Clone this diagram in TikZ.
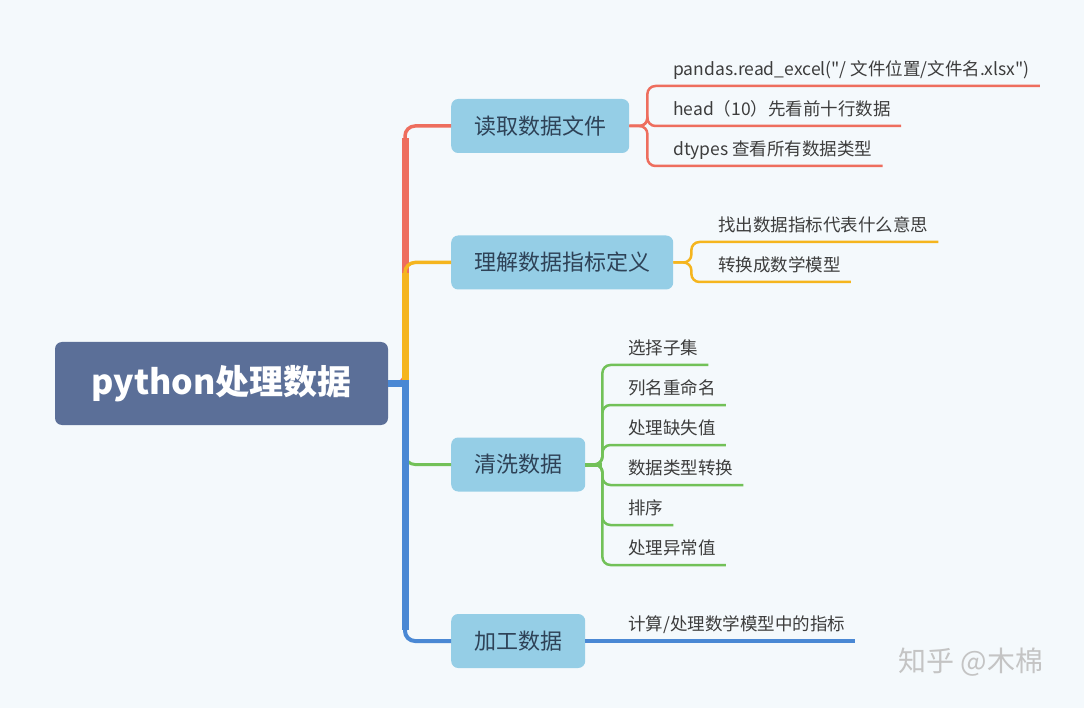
\documentclass[tikz,border=0pt]{standalone}
\usepackage{fontspec}
\setmainfont{Noto Sans CJK SC}[Ligatures=TeXOff]
\usetikzlibrary{positioning}

\definecolor{bg}{HTML}{F4F9FC}
\definecolor{rootfill}{HTML}{5B6F98}
\definecolor{topicfill}{HTML}{95CEE6}
\definecolor{topictext}{HTML}{2E4257}
\definecolor{leaftext}{HTML}{3D3D3D}
\definecolor{redline}{HTML}{EE6E5E}
\definecolor{yellowline}{HTML}{F5B51E}
\definecolor{greenline}{HTML}{72C158}
\definecolor{blueline}{HTML}{4A88D4}
\definecolor{wmgray}{HTML}{C4C4C4}

\begin{document}
\begin{tikzpicture}[x=1pt, y=-1pt,
    root/.style={rectangle, rounded corners=7pt, fill=rootfill, text=white, minimum width=333pt, minimum height=83pt, font=\fontsize{34}{38}\selectfont\bfseries},
    topic/.style={rectangle, rounded corners=7pt, fill=topicfill, text=topictext, minimum height=54pt, inner xsep=23pt, anchor=west, font=\fontsize{22}{26}\selectfont},
    leaf/.style={anchor=south west, inner xsep=10pt, inner ysep=7pt, text depth=3pt, text=leaftext, font=\fontsize{17.5}{20}\selectfont},
    trunk/.style={line width=7pt},
    bough/.style={line width=3.5pt, rounded corners=10pt},
    twig/.style={line width=2.5pt, rounded corners=8pt}]
    \fill[bg] (0,0) rectangle (1084,708);
    \useasboundingbox (0,0) rectangle (1084,708);

    % root and main topics
    \node[root] (root) at (221.5,383.5) {python处理数据};
    \node[topic] (read) at (451,126) {读取数据文件};
    \node[topic] (define) at (451,262.5) {理解数据指标定义};
    \node[topic] (clean) at (451,464.5) {清洗数据};
    \node[topic] (process) at (451,641) {加工数据};
    \coordinate (fork) at (405,383.5);

    % main branches
    \draw[bough, redline] (root.east) -- (fork) |- (read.west);
    \draw[trunk, redline] (fork) -- (405,138);
    \draw[bough, yellowline] (fork) |- (define.west);
    \draw[trunk, yellowline] (fork) -- (405,273);
    \draw[bough, greenline, line width=3pt] (fork) |- (clean.west);
    \draw[bough, blueline, line width=4pt] (fork) |- (process.west);
    \draw[trunk, blueline] (root.east) -- (fork) -- (405,630);

    % read
    \node[leaf] (read1) at (663,86) {pandas.read\_excel("/ 文件位置/文件名.xlsx")};
    \node[leaf] (read2) at (663,126) {head（10）先看前十行数据};
    \node[leaf] (read3) at (663,166) {dtypes 查看所有数据类型};
    \foreach \i in {1,2,3}
        \draw[twig, redline] (read.east) -- ++(18,0) |- (read\i.south east);

    % define
    \node[leaf] (define1) at (708,242) {找出数据指标代表什么意思};
    \node[leaf] (define2) at (708,282) {转换成数学模型};
    \foreach \i in {1,2}
        \draw[twig, yellowline] (define.east) -- ++(18,0) |- (define\i.south east);

    % clean
    \foreach \t[count=\i from 1] in {选择子集, 列名重命名, 处理缺失值, 数据类型转换, 排序, 处理异常值}
    {
        \node[leaf] (clean\i) at (618,325+40*\i) {\t};
        \draw[twig, greenline] (clean.east) -- ++(17,0) |- (clean\i.south east);
    }
    \draw[greenline, line width=4pt] (clean.east) -- ++(17,0);

    % process
    \node[leaf] (process1) at (618,641) {计算/处理数学模型中的指标};
    \draw[blueline, line width=3.5pt] (process.east) -- (process1.south east);

    \node[text=wmgray, font=\fontsize{28}{30}\selectfont] (mark) at (971,662) {知乎 @木棉};
\end{tikzpicture}
\end{document}
